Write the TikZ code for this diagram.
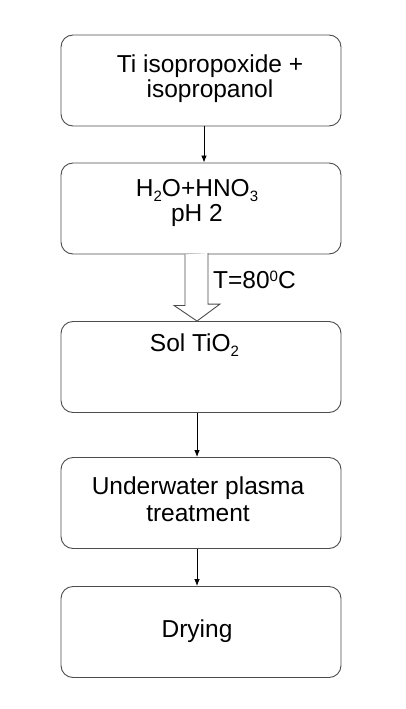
\documentclass[tikz,border=0pt]{standalone}
\usepackage{fontspec}
\setmainfont{Liberation Sans}
\usetikzlibrary{arrows.meta}
\newcommand{\chemsub}[1]{\raisebox{-5pt}{\fontsize{15}{15}\selectfont #1}}
\newcommand{\degsup}[1]{\raisebox{7pt}{\fontsize{15}{15}\selectfont #1}}
\begin{document}
\begin{tikzpicture}[x=1pt, y=-1pt,
    stepbox/.style={draw=black!70, line width=0.9pt, rounded corners=12pt, minimum width=280pt, minimum height=91pt, inner sep=0pt},
    steptext/.style={align=center, inner sep=0pt, font=\fontsize{24.5}{25}\selectfont},
    flow/.style={-{Latex[length=7pt, width=5.5pt]}, line width=0.8pt}]
    \useasboundingbox (0, 0) rectangle (405, 709);
    \node [stepbox] (mix) at (201, 80.5) {};
    \node [stepbox] (acid) at (201, 208.5) {};
    \node [stepbox] (sol) at (201, 367) {};
    \node [stepbox] (plasma) at (201, 503) {};
    \node [stepbox] (dry) at (201, 632) {};
    \node [steptext] (mixtext) at (210, 78.5) {Ti isopropoxide +\\isopropanol};
    \node [steptext] (acidtext) at (197, 203) {H\chemsub{2}O+HNO\chemsub{3}\\pH 2};
    \node [steptext, anchor=base] (soltext) at (194.5, 351) {Sol TiO\chemsub{2}};
    \node [steptext] (plasmatext) at (198, 499) {Underwater plasma\\[2.5pt]treatment};
    \node [steptext, anchor=base] (drytext) at (197, 637) {Drying};
    \draw [flow] ([xshift=3pt]mix.south) -- ([xshift=3pt]acid.north);
    \draw [line width=0.9pt, draw=black!70, fill=white] ([xshift=-16pt]acid.south) -- ++(0, 51) -- ++(-11, 0) -- ([xshift=-4pt]sol.north) -- ++(23, -17) -- ++(-12, 0) -- ++(0, -51);
    \node [steptext, anchor=base west] (temp) at (213, 288) {T=80\degsup{0}C};
    \draw [flow] ([xshift=-4pt]sol.south) -- ([xshift=-4pt]plasma.north);
    \draw [flow] ([xshift=-4pt]plasma.south) -- ([xshift=-4pt]dry.north);
\end{tikzpicture}
\end{document}
